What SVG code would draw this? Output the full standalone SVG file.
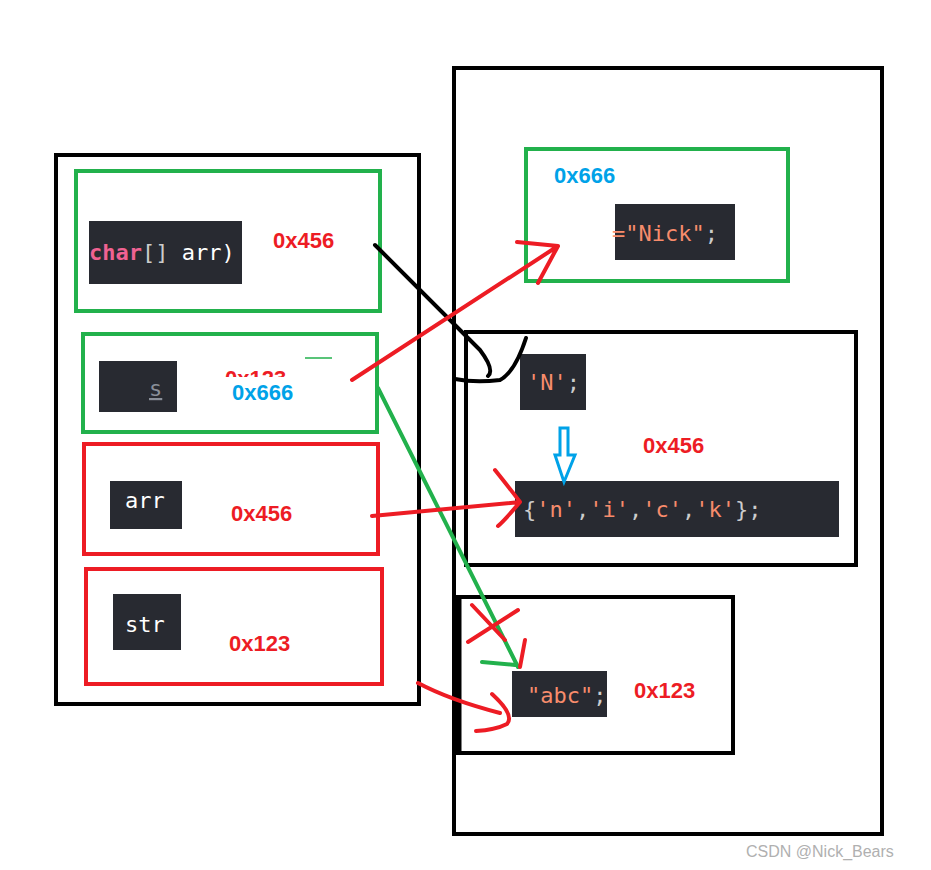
<svg xmlns="http://www.w3.org/2000/svg" width="931" height="870" viewBox="0 0 931 870">
<style>
.bk{fill:none;stroke:#000;stroke-width:4}
.gr{fill:none;stroke:#22b14c;stroke-width:4}
.rd{fill:none;stroke:#ed1c24;stroke-width:4}
.code{fill:#282a31}
.mono{font-family:"DejaVu Sans Mono",monospace;font-size:22px}
.addr{font-family:"Liberation Sans",sans-serif;font-weight:bold;font-size:22px;fill:#ed1c24}
.blue{fill:#00a2e8}
.ln{fill:none;stroke-linecap:round;stroke-linejoin:round;stroke-width:4}
</style>
<defs><clipPath id="cut"><rect x="200" y="360" width="120" height="17"/></clipPath></defs>
<rect width="931" height="870" fill="#fff"/>
<g id="stack">
<rect class="bk" x="56" y="155" width="363" height="549"/>
</g>
<g id="heap">
<rect class="bk" x="454" y="68" width="428" height="766"/>
</g>
<g id="slot-arr-param">
<rect class="gr" x="76" y="171" width="304" height="140"/>
<rect class="code" x="89" y="221" width="153" height="63"/>
<text class="mono" x="89" y="260" fill="#fff"><tspan fill="#f06292" font-weight="bold">char</tspan><tspan fill="#ccc">[]</tspan> arr)</text>
<text class="addr" x="273" y="248">0x456</text>
</g>
<g id="slot-s">
<rect class="gr" x="83" y="334" width="294" height="98"/>
<rect class="code" x="99" y="361" width="78" height="51"/>
<text class="mono" x="149" y="396" fill="#8a8f99" text-decoration="underline">s</text>
<text class="addr" x="225" y="386" clip-path="url(#cut)">0x123</text>
<line x1="305" y1="358" x2="332" y2="358" stroke="#22b14c" stroke-width="1.5"/>
<text class="addr blue" x="232" y="400">0x666</text>
</g>
<g id="slot-arr">
<rect class="rd" x="84" y="444" width="294" height="110"/>
<rect class="code" x="110" y="481" width="72" height="48"/>
<text class="mono" x="125" y="508" fill="#fff">arr</text>
<text class="addr" x="231" y="521">0x456</text>
</g>
<g id="slot-str">
<rect class="rd" x="86" y="569" width="296" height="115"/>
<rect class="code" x="113" y="594" width="68" height="56"/>
<text class="mono" x="125" y="632" fill="#fff">str</text>
<text class="addr" x="229" y="651">0x123</text>
</g>
<g id="obj-nick">
<rect class="gr" x="526" y="149" width="262" height="132"/>
<text class="addr blue" x="554" y="183">0x666</text>
<rect class="code" x="615" y="204" width="120" height="56"/>
<text class="mono" x="612" y="241" fill="#f78c6c">="Nick"<tspan fill="#ccc">;</tspan></text>
</g>
<g id="obj-array">
<rect class="bk" x="466" y="332" width="390" height="233"/>
<rect class="code" x="520" y="354" width="66" height="56"/>
<text class="mono" x="527" y="390" fill="#f78c6c">'N'<tspan fill="#ccc">;</tspan></text>
<text class="addr" x="643" y="453">0x456</text>
<rect class="code" x="515" y="481" width="324" height="56"/>
<text class="mono" x="523" y="517" fill="#ccc">{<tspan fill="#f78c6c">'n'</tspan>,<tspan fill="#f78c6c">'i'</tspan>,<tspan fill="#f78c6c">'c'</tspan>,<tspan fill="#f78c6c">'k'</tspan>};</text>
</g>
<g id="obj-abc">
<rect class="bk" x="458" y="597" width="275" height="156"/>
<line x1="458" y1="597" x2="458" y2="753" stroke="#000" stroke-width="7"/>
<rect class="code" x="512" y="671" width="95" height="46"/>
<text class="mono" x="527" y="703" fill="#f78c6c">"abc"<tspan fill="#ccc">;</tspan></text>
<text class="addr" x="634" y="698">0x123</text>
</g>
<g id="connectors">
<path class="ln" stroke="#000" d="M375,245 L480,350 Q495,370 488,376 M455,379 Q475,383 500,380 Q515,372 526,338"/>
<path class="ln" stroke="#ed1c24" d="M352,380 L558,246 M517,242 L558,246 L538,283"/>
<path class="ln" stroke="#22b14c" stroke-width="3" d="M378,388 L518,667 M482,662 L515,665"/>
<path class="ln" stroke="#ed1c24" d="M372,516 L520,502 M495,470 Q515,495 520,502 Q505,520 498,526"/>
<path class="ln" stroke="#ed1c24" d="M472,605 L505,640 M518,610 L468,642 M525,640 L520,667"/>
<path class="ln" stroke="#ed1c24" d="M418,683 Q450,700 500,713 M492,694 Q515,715 507,724 Q495,730 476,731"/>
<path fill="none" stroke="#00a2e8" stroke-width="3" d="M560,428 L568,428 L568,455 L575,455 L564,482 L555,455 L560,455 Z"/>
</g>
<text x="746" y="857" font-family="Liberation Sans,sans-serif" font-size="16" fill="#b0b0b0">CSDN @Nick_Bears</text>
</svg>
